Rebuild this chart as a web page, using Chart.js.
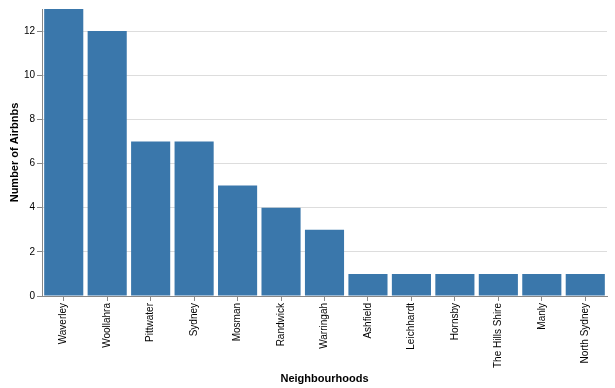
<!DOCTYPE html>
<html lang="en">
<head>
  <meta charset="UTF-8">
  <title>Airbnbs by neighbourhood</title>
  <script src="https://cdn.jsdelivr.net/npm/chart.js"></script>
  <style>
    body { margin: 0; background: #fff; }
    .wrap { width: 615px; height: 388px; }
  </style>
</head>
<body>
  <div class="wrap"><canvas id="chart"></canvas></div>
  <script>
    const neighbourhoods = ['Waverley', 'Woollahra', 'Pittwater', 'Sydney', 'Mosman', 'Randwick', 'Warringah',
      'Ashfield', 'Leichhardt', 'Hornsby', 'The Hills Shire', 'Manly', 'North Sydney'];
    const airbnbCounts = [13, 12, 7, 7, 5, 4, 3, 1, 1, 1, 1, 1, 1];
    const yTicks = [0, 2, 4, 6, 8, 10, 12];

    const font = 'Liberation Sans, Arial, sans-serif';

    new Chart(document.getElementById('chart'), {
      type: 'bar',
      data: {
        labels: neighbourhoods,
        datasets: [{
          label: 'Number of Airbnbs',
          data: airbnbCounts,
          backgroundColor: '#3a77ab',
          categoryPercentage: 1,
          barPercentage: 0.9
        }]
      },
      options: {
        responsive: true,
        maintainAspectRatio: false,
        animation: false,
        layout: { padding: { top: 9, right: 8, left: 0, bottom: 0 } },
        plugins: { legend: { display: false }, tooltip: { enabled: false } },
        scales: {
          x: {
            grid: { offset: false, drawOnChartArea: false, tickLength: 5, color: '#888' },
            border: { color: '#888' },
            ticks: {
              minRotation: 90, maxRotation: 90, padding: 2,
              color: '#000', font: { family: font, size: 10 }
            },
            title: {
              display: true, text: 'Neighbourhoods', color: '#000',
              font: { family: font, size: 11, weight: 'bold' }, padding: { top: 0, bottom: 2 }
            },
            afterFit: s => { s.height = 92; }
          },
          y: {
            min: 0, max: 13,
            grid: { color: '#ddd', tickColor: '#888', tickLength: 5 },
            border: { color: '#888' },
            ticks: { padding: 2, color: '#000', font: { family: font, size: 10 } },
            afterBuildTicks: s => { s.ticks = yTicks.map(v => ({ value: v })); },
            title: {
              display: true, text: 'Number of Airbnbs', color: '#000',
              font: { family: font, size: 11, weight: 'bold' }, padding: { top: 8, bottom: 0 }
            },
            afterFit: s => { s.width = 42; }
          }
        }
      }
    });
  </script>
</body>
</html>
